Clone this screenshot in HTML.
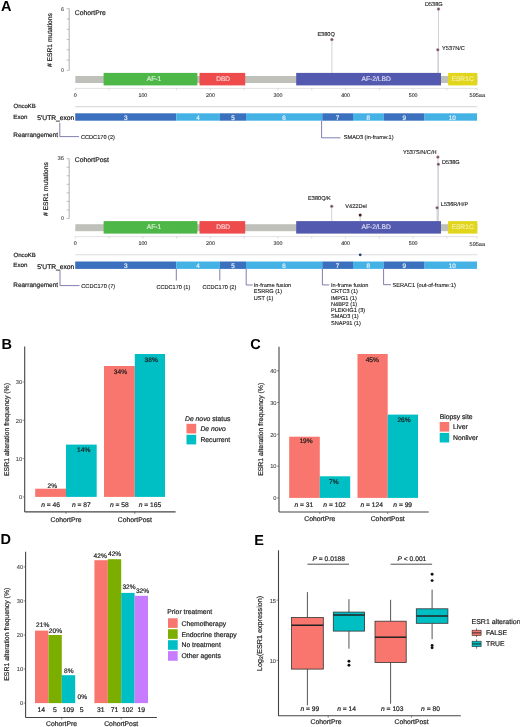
<!DOCTYPE html>
<html><head><meta charset="utf-8"><title>ESR1 alterations figure</title>
<style>
html,body{margin:0;padding:0;background:#fff;}
body{width:520px;height:727px;overflow:hidden;}
svg{display:block;font-family:'Liberation Sans', Arial, sans-serif;text-rendering:geometricPrecision;}
</style></head><body>
<svg width="520" height="727" viewBox="0 0 520 727">
<rect x="0" y="0" width="520" height="727" fill="#fff"/>
<text x="0.90" y="10.60" font-size="14.5" font-weight="bold" fill="#000">A</text>
<line x1="69.20" y1="8.70" x2="69.20" y2="70.40" stroke="#9a9a9a" stroke-width="0.8"/>
<line x1="66.60" y1="8.70" x2="69.20" y2="8.70" stroke="#9a9a9a" stroke-width="0.6"/>
<line x1="66.60" y1="18.98" x2="69.20" y2="18.98" stroke="#9a9a9a" stroke-width="0.6"/>
<line x1="66.60" y1="29.27" x2="69.20" y2="29.27" stroke="#9a9a9a" stroke-width="0.6"/>
<line x1="66.60" y1="39.55" x2="69.20" y2="39.55" stroke="#9a9a9a" stroke-width="0.6"/>
<line x1="66.60" y1="49.83" x2="69.20" y2="49.83" stroke="#9a9a9a" stroke-width="0.6"/>
<line x1="66.60" y1="60.12" x2="69.20" y2="60.12" stroke="#9a9a9a" stroke-width="0.6"/>
<line x1="66.60" y1="70.40" x2="69.20" y2="70.40" stroke="#9a9a9a" stroke-width="0.6"/>
<text x="64.00" y="10.61" font-size="5.3" text-anchor="end" fill="#4d4d4d" stroke="#4d4d4d" stroke-width="0.12">6</text>
<text x="64.00" y="72.31" font-size="5.3" text-anchor="end" fill="#4d4d4d" stroke="#4d4d4d" stroke-width="0.12">0</text>
<text x="74.80" y="14.80" font-size="6.8" fill="#222" stroke="#222" stroke-width="0.2">CohortPre</text>
<text transform="translate(52.41,40.05) rotate(-90)" x="0" y="0" font-size="6.7" text-anchor="middle" fill="#222" stroke="#222" stroke-width="0.2"># ESR1 mutations</text>
<line x1="331.90" y1="39.60" x2="331.90" y2="72.90" stroke="#cdcdd5" stroke-width="0.9"/>
<line x1="438.50" y1="9.00" x2="438.50" y2="72.90" stroke="#cdcdd5" stroke-width="0.9"/>
<line x1="437.80" y1="49.70" x2="437.80" y2="72.90" stroke="#cdcdd5" stroke-width="0.9"/>
<rect x="75.30" y="76.00" width="402.00" height="7.00" fill="#c0c0ba"/>
<rect x="103.60" y="72.90" width="93.80" height="12.50" fill="#4db748"/>
<rect x="199.50" y="72.90" width="45.70" height="12.50" fill="#ee4b4d"/>
<rect x="296.20" y="72.90" width="144.80" height="12.50" fill="#5459b0"/>
<rect x="448.10" y="72.90" width="29.20" height="12.50" fill="#e2d61c"/>
<text x="154.00" y="80.90" font-size="6.8" text-anchor="middle" fill="#d2eccd" stroke="#d2eccd" stroke-width="0.2">AF-1</text>
<text x="223.10" y="81.20" font-size="6.6" text-anchor="middle" fill="#f9cccc" stroke="#f9cccc" stroke-width="0.2">DBD</text>
<text x="376.20" y="81.00" font-size="6.7" text-anchor="middle" fill="#d6d8f0" stroke="#d6d8f0" stroke-width="0.2">AF-2/LBD</text>
<text x="462.60" y="81.00" font-size="6.7" text-anchor="middle" fill="#f3eea0" stroke="#f3eea0" stroke-width="0.2">ESR1C</text>
<circle cx="331.90" cy="39.60" r="1.5" fill="#6f4d66" stroke="#e0c0cc" stroke-width="0.4"/>
<text x="334.80" y="35.62" font-size="5.6" text-anchor="end" fill="#222" stroke="#222" stroke-width="0.12">E380Q</text>
<circle cx="438.50" cy="9.00" r="1.5" fill="#6f4d66" stroke="#e0c0cc" stroke-width="0.4"/>
<text x="442.70" y="5.52" font-size="5.6" text-anchor="end" fill="#222" stroke="#222" stroke-width="0.12">D538G</text>
<circle cx="437.80" cy="49.70" r="1.5" fill="#6f4d66" stroke="#e0c0cc" stroke-width="0.4"/>
<text x="442.10" y="50.22" font-size="5.6" fill="#222" stroke="#222" stroke-width="0.12">Y537N/C</text>
<line x1="75.30" y1="88.40" x2="477.30" y2="88.40" stroke="#d8d4dc" stroke-width="0.7"/>
<line x1="75.30" y1="88.40" x2="75.30" y2="90.40" stroke="#c8c4cc" stroke-width="0.6"/>
<line x1="109.08" y1="88.40" x2="109.08" y2="90.40" stroke="#c8c4cc" stroke-width="0.6"/>
<line x1="142.86" y1="88.40" x2="142.86" y2="90.40" stroke="#c8c4cc" stroke-width="0.6"/>
<line x1="176.64" y1="88.40" x2="176.64" y2="90.40" stroke="#c8c4cc" stroke-width="0.6"/>
<line x1="210.43" y1="88.40" x2="210.43" y2="90.40" stroke="#c8c4cc" stroke-width="0.6"/>
<line x1="244.21" y1="88.40" x2="244.21" y2="90.40" stroke="#c8c4cc" stroke-width="0.6"/>
<line x1="277.99" y1="88.40" x2="277.99" y2="90.40" stroke="#c8c4cc" stroke-width="0.6"/>
<line x1="311.77" y1="88.40" x2="311.77" y2="90.40" stroke="#c8c4cc" stroke-width="0.6"/>
<line x1="345.55" y1="88.40" x2="345.55" y2="90.40" stroke="#c8c4cc" stroke-width="0.6"/>
<line x1="379.33" y1="88.40" x2="379.33" y2="90.40" stroke="#c8c4cc" stroke-width="0.6"/>
<line x1="413.12" y1="88.40" x2="413.12" y2="90.40" stroke="#c8c4cc" stroke-width="0.6"/>
<line x1="446.90" y1="88.40" x2="446.90" y2="90.40" stroke="#c8c4cc" stroke-width="0.6"/>
<line x1="477.30" y1="88.40" x2="477.30" y2="90.40" stroke="#c8c4cc" stroke-width="0.6"/>
<text x="75.30" y="97.01" font-size="5.3" text-anchor="middle" fill="#333" stroke="#333" stroke-width="0.12">0</text>
<text x="142.86" y="97.01" font-size="5.3" text-anchor="middle" fill="#333" stroke="#333" stroke-width="0.12">100</text>
<text x="210.43" y="97.01" font-size="5.3" text-anchor="middle" fill="#333" stroke="#333" stroke-width="0.12">200</text>
<text x="277.99" y="97.01" font-size="5.3" text-anchor="middle" fill="#333" stroke="#333" stroke-width="0.12">300</text>
<text x="345.55" y="97.01" font-size="5.3" text-anchor="middle" fill="#333" stroke="#333" stroke-width="0.12">400</text>
<text x="413.12" y="97.01" font-size="5.3" text-anchor="middle" fill="#333" stroke="#333" stroke-width="0.12">500</text>
<text x="477.30" y="97.42" font-size="5.6" text-anchor="middle" fill="#333" stroke="#333" stroke-width="0.12">595aa</text>
<line x1="75.20" y1="106.60" x2="477.30" y2="106.60" stroke="#dcdcdc" stroke-width="1.1"/>
<text x="13.50" y="108.36" font-size="6.0" fill="#222" stroke="#222" stroke-width="0.2">OncoKB</text>
<text x="13.30" y="119.13" font-size="6.2" fill="#222" stroke="#222" stroke-width="0.2">Exon</text>
<text x="13.30" y="137.22" font-size="6.45" fill="#222" stroke="#222" stroke-width="0.2">Rearrangement</text>
<text x="74.30" y="120.41" font-size="6.7" text-anchor="end" fill="#111" stroke="#111" stroke-width="0.2">5'UTR_exon</text>
<rect x="75.20" y="113.30" width="101.10" height="7.40" fill="#3a70bd"/>
<text x="125.75" y="119.50" font-size="6.4" text-anchor="middle" fill="#e3eefa" stroke="#e3eefa" stroke-width="0.2">3</text>
<rect x="176.30" y="113.30" width="43.60" height="7.40" fill="#45b2e6"/>
<text x="198.10" y="119.50" font-size="6.4" text-anchor="middle" fill="#e3eefa" stroke="#e3eefa" stroke-width="0.2">4</text>
<rect x="219.90" y="113.30" width="26.10" height="7.40" fill="#3a70bd"/>
<text x="232.95" y="119.50" font-size="6.4" text-anchor="middle" fill="#e3eefa" stroke="#e3eefa" stroke-width="0.2">5</text>
<rect x="246.00" y="113.30" width="76.30" height="7.40" fill="#45b2e6"/>
<text x="284.15" y="119.50" font-size="6.4" text-anchor="middle" fill="#e3eefa" stroke="#e3eefa" stroke-width="0.2">6</text>
<rect x="322.30" y="113.30" width="30.70" height="7.40" fill="#3a70bd"/>
<text x="337.65" y="119.50" font-size="6.4" text-anchor="middle" fill="#e3eefa" stroke="#e3eefa" stroke-width="0.2">7</text>
<rect x="353.00" y="113.30" width="30.80" height="7.40" fill="#45b2e6"/>
<text x="368.40" y="119.50" font-size="6.4" text-anchor="middle" fill="#e3eefa" stroke="#e3eefa" stroke-width="0.2">8</text>
<rect x="383.80" y="113.30" width="40.80" height="7.40" fill="#3a70bd"/>
<text x="404.20" y="119.50" font-size="6.4" text-anchor="middle" fill="#e3eefa" stroke="#e3eefa" stroke-width="0.2">9</text>
<rect x="424.60" y="113.30" width="52.40" height="7.40" fill="#45b2e6"/>
<text x="452.30" y="119.50" font-size="6.4" text-anchor="middle" fill="#e3eefa" stroke="#e3eefa" stroke-width="0.2">10</text>
<polyline points="59.80,122.80 59.80,136.60 79.00,136.60" fill="none" stroke="#5f609a" stroke-width="0.8"/>
<text x="81.00" y="138.62" font-size="5.6" fill="#222" stroke="#222" stroke-width="0.12">CCDC170 (2)</text>
<polyline points="321.60,120.70 321.60,137.80 340.40,137.80" fill="none" stroke="#5f609a" stroke-width="0.8"/>
<text x="343.80" y="139.42" font-size="5.6" fill="#222" stroke="#222" stroke-width="0.12">SMAD3 (in-frame:1)</text>
<line x1="69.20" y1="158.70" x2="69.20" y2="218.50" stroke="#9a9a9a" stroke-width="0.8"/>
<line x1="66.60" y1="158.70" x2="69.20" y2="158.70" stroke="#9a9a9a" stroke-width="0.6"/>
<line x1="66.60" y1="167.24" x2="69.20" y2="167.24" stroke="#9a9a9a" stroke-width="0.6"/>
<line x1="66.60" y1="175.79" x2="69.20" y2="175.79" stroke="#9a9a9a" stroke-width="0.6"/>
<line x1="66.60" y1="184.33" x2="69.20" y2="184.33" stroke="#9a9a9a" stroke-width="0.6"/>
<line x1="66.60" y1="192.87" x2="69.20" y2="192.87" stroke="#9a9a9a" stroke-width="0.6"/>
<line x1="66.60" y1="201.41" x2="69.20" y2="201.41" stroke="#9a9a9a" stroke-width="0.6"/>
<line x1="66.60" y1="209.96" x2="69.20" y2="209.96" stroke="#9a9a9a" stroke-width="0.6"/>
<line x1="66.60" y1="218.50" x2="69.20" y2="218.50" stroke="#9a9a9a" stroke-width="0.6"/>
<text x="64.00" y="159.79" font-size="5.8" text-anchor="end" fill="#4d4d4d" stroke="#4d4d4d" stroke-width="0.12">36</text>
<text x="64.00" y="220.41" font-size="5.3" text-anchor="end" fill="#4d4d4d" stroke="#4d4d4d" stroke-width="0.12">0</text>
<text x="74.80" y="162.00" font-size="6.8" fill="#222" stroke="#222" stroke-width="0.2">CohortPost</text>
<text transform="translate(48.41,189.10) rotate(-90)" x="0" y="0" font-size="6.7" text-anchor="middle" fill="#222" stroke="#222" stroke-width="0.2"># ESR1 mutations</text>
<line x1="331.70" y1="206.30" x2="331.70" y2="221.10" stroke="#cdcdd5" stroke-width="0.9"/>
<line x1="360.20" y1="215.00" x2="360.20" y2="221.10" stroke="#cdcdd5" stroke-width="0.9"/>
<line x1="437.90" y1="157.10" x2="437.90" y2="221.10" stroke="#cdcdd5" stroke-width="0.9"/>
<line x1="438.40" y1="164.20" x2="438.40" y2="221.10" stroke="#cdcdd5" stroke-width="0.9"/>
<line x1="437.10" y1="207.70" x2="437.10" y2="221.10" stroke="#cdcdd5" stroke-width="0.9"/>
<rect x="75.30" y="224.20" width="402.00" height="7.00" fill="#c0c0ba"/>
<rect x="103.60" y="221.10" width="93.80" height="12.50" fill="#4db748"/>
<rect x="199.50" y="221.10" width="45.70" height="12.50" fill="#ee4b4d"/>
<rect x="296.20" y="221.10" width="144.80" height="12.50" fill="#5459b0"/>
<rect x="448.10" y="221.10" width="29.20" height="12.50" fill="#e2d61c"/>
<text x="154.00" y="229.10" font-size="6.8" text-anchor="middle" fill="#d2eccd" stroke="#d2eccd" stroke-width="0.2">AF-1</text>
<text x="223.10" y="229.40" font-size="6.6" text-anchor="middle" fill="#f9cccc" stroke="#f9cccc" stroke-width="0.2">DBD</text>
<text x="376.20" y="229.20" font-size="6.7" text-anchor="middle" fill="#d6d8f0" stroke="#d6d8f0" stroke-width="0.2">AF-2/LBD</text>
<text x="462.60" y="229.20" font-size="6.7" text-anchor="middle" fill="#f3eea0" stroke="#f3eea0" stroke-width="0.2">ESR1C</text>
<circle cx="331.70" cy="206.30" r="1.5" fill="#6f4d66" stroke="#e0c0cc" stroke-width="0.4"/>
<text x="330.80" y="199.72" font-size="5.6" text-anchor="end" fill="#222" stroke="#222" stroke-width="0.12">E380Q/K</text>
<circle cx="360.20" cy="215.00" r="1.5" fill="#4a1c1c"/>
<text x="356.10" y="208.32" font-size="5.6" text-anchor="middle" fill="#222" stroke="#222" stroke-width="0.12">V422Del</text>
<circle cx="437.90" cy="157.10" r="1.5" fill="#6f4d66" stroke="#e0c0cc" stroke-width="0.4"/>
<text x="436.50" y="153.52" font-size="5.6" text-anchor="end" fill="#222" stroke="#222" stroke-width="0.12">Y537S/N/C/H</text>
<circle cx="438.40" cy="164.20" r="1.5" fill="#6f4d66" stroke="#e0c0cc" stroke-width="0.4"/>
<text x="442.00" y="163.72" font-size="5.6" fill="#222" stroke="#222" stroke-width="0.12">D538G</text>
<circle cx="437.10" cy="207.70" r="1.5" fill="#6f4d66" stroke="#e0c0cc" stroke-width="0.4"/>
<text x="440.80" y="205.82" font-size="5.6" fill="#222" stroke="#222" stroke-width="0.12">L536R/H/P</text>
<line x1="75.30" y1="236.60" x2="477.30" y2="236.60" stroke="#d8d4dc" stroke-width="0.7"/>
<line x1="75.30" y1="236.60" x2="75.30" y2="238.60" stroke="#c8c4cc" stroke-width="0.6"/>
<line x1="109.08" y1="236.60" x2="109.08" y2="238.60" stroke="#c8c4cc" stroke-width="0.6"/>
<line x1="142.86" y1="236.60" x2="142.86" y2="238.60" stroke="#c8c4cc" stroke-width="0.6"/>
<line x1="176.64" y1="236.60" x2="176.64" y2="238.60" stroke="#c8c4cc" stroke-width="0.6"/>
<line x1="210.43" y1="236.60" x2="210.43" y2="238.60" stroke="#c8c4cc" stroke-width="0.6"/>
<line x1="244.21" y1="236.60" x2="244.21" y2="238.60" stroke="#c8c4cc" stroke-width="0.6"/>
<line x1="277.99" y1="236.60" x2="277.99" y2="238.60" stroke="#c8c4cc" stroke-width="0.6"/>
<line x1="311.77" y1="236.60" x2="311.77" y2="238.60" stroke="#c8c4cc" stroke-width="0.6"/>
<line x1="345.55" y1="236.60" x2="345.55" y2="238.60" stroke="#c8c4cc" stroke-width="0.6"/>
<line x1="379.33" y1="236.60" x2="379.33" y2="238.60" stroke="#c8c4cc" stroke-width="0.6"/>
<line x1="413.12" y1="236.60" x2="413.12" y2="238.60" stroke="#c8c4cc" stroke-width="0.6"/>
<line x1="446.90" y1="236.60" x2="446.90" y2="238.60" stroke="#c8c4cc" stroke-width="0.6"/>
<line x1="477.30" y1="236.60" x2="477.30" y2="238.60" stroke="#c8c4cc" stroke-width="0.6"/>
<text x="75.30" y="245.21" font-size="5.3" text-anchor="middle" fill="#333" stroke="#333" stroke-width="0.12">0</text>
<text x="142.86" y="245.21" font-size="5.3" text-anchor="middle" fill="#333" stroke="#333" stroke-width="0.12">100</text>
<text x="210.43" y="245.21" font-size="5.3" text-anchor="middle" fill="#333" stroke="#333" stroke-width="0.12">200</text>
<text x="277.99" y="245.21" font-size="5.3" text-anchor="middle" fill="#333" stroke="#333" stroke-width="0.12">300</text>
<text x="345.55" y="245.21" font-size="5.3" text-anchor="middle" fill="#333" stroke="#333" stroke-width="0.12">400</text>
<text x="413.12" y="245.21" font-size="5.3" text-anchor="middle" fill="#333" stroke="#333" stroke-width="0.12">500</text>
<text x="477.30" y="245.62" font-size="5.6" text-anchor="middle" fill="#333" stroke="#333" stroke-width="0.12">595aa</text>
<line x1="75.20" y1="254.80" x2="477.30" y2="254.80" stroke="#dcdcdc" stroke-width="1.1"/>
<text x="13.50" y="256.56" font-size="6.0" fill="#222" stroke="#222" stroke-width="0.2">OncoKB</text>
<text x="13.30" y="267.33" font-size="6.2" fill="#222" stroke="#222" stroke-width="0.2">Exon</text>
<text x="13.30" y="287.32" font-size="6.45" fill="#222" stroke="#222" stroke-width="0.2">Rearrangement</text>
<text x="74.30" y="268.61" font-size="6.7" text-anchor="end" fill="#111" stroke="#111" stroke-width="0.2">5'UTR_exon</text>
<rect x="75.20" y="261.50" width="101.10" height="7.40" fill="#3a70bd"/>
<text x="125.75" y="267.70" font-size="6.4" text-anchor="middle" fill="#e3eefa" stroke="#e3eefa" stroke-width="0.2">3</text>
<rect x="176.30" y="261.50" width="43.60" height="7.40" fill="#45b2e6"/>
<text x="198.10" y="267.70" font-size="6.4" text-anchor="middle" fill="#e3eefa" stroke="#e3eefa" stroke-width="0.2">4</text>
<rect x="219.90" y="261.50" width="26.10" height="7.40" fill="#3a70bd"/>
<text x="232.95" y="267.70" font-size="6.4" text-anchor="middle" fill="#e3eefa" stroke="#e3eefa" stroke-width="0.2">5</text>
<rect x="246.00" y="261.50" width="76.30" height="7.40" fill="#45b2e6"/>
<text x="284.15" y="267.70" font-size="6.4" text-anchor="middle" fill="#e3eefa" stroke="#e3eefa" stroke-width="0.2">6</text>
<rect x="322.30" y="261.50" width="30.70" height="7.40" fill="#3a70bd"/>
<text x="337.65" y="267.70" font-size="6.4" text-anchor="middle" fill="#e3eefa" stroke="#e3eefa" stroke-width="0.2">7</text>
<rect x="353.00" y="261.50" width="30.80" height="7.40" fill="#45b2e6"/>
<text x="368.40" y="267.70" font-size="6.4" text-anchor="middle" fill="#e3eefa" stroke="#e3eefa" stroke-width="0.2">8</text>
<rect x="383.80" y="261.50" width="40.80" height="7.40" fill="#3a70bd"/>
<text x="404.20" y="267.70" font-size="6.4" text-anchor="middle" fill="#e3eefa" stroke="#e3eefa" stroke-width="0.2">9</text>
<rect x="424.60" y="261.50" width="52.40" height="7.40" fill="#45b2e6"/>
<text x="452.30" y="267.70" font-size="6.4" text-anchor="middle" fill="#e3eefa" stroke="#e3eefa" stroke-width="0.2">10</text>
<circle cx="360.20" cy="254.80" r="1.4" fill="#2b3d6b"/>
<polyline points="60.00,270.00 60.00,285.60 79.50,285.60" fill="none" stroke="#5f609a" stroke-width="0.8"/>
<text x="81.30" y="288.02" font-size="5.6" fill="#222" stroke="#222" stroke-width="0.12">CCDC170 (7)</text>
<line x1="176.30" y1="268.90" x2="176.30" y2="280.50" stroke="#5f609a" stroke-width="0.8"/>
<text x="173.40" y="288.82" font-size="5.6" text-anchor="middle" fill="#222" stroke="#222" stroke-width="0.12">CCDC170 (1)</text>
<line x1="219.80" y1="268.90" x2="219.80" y2="280.50" stroke="#5f609a" stroke-width="0.8"/>
<text x="219.40" y="288.82" font-size="5.6" text-anchor="middle" fill="#222" stroke="#222" stroke-width="0.12">CCDC170 (2)</text>
<polyline points="246.20,268.90 246.20,285.00 252.70,285.00" fill="none" stroke="#5f609a" stroke-width="0.8"/>
<text x="253.80" y="287.02" font-size="5.6" fill="#222" stroke="#222" stroke-width="0.12">In-frame fusion</text>
<text x="253.80" y="293.37" font-size="5.6" fill="#222" stroke="#222" stroke-width="0.12">ESRRG (1)</text>
<text x="253.80" y="299.72" font-size="5.6" fill="#222" stroke="#222" stroke-width="0.12">UST (1)</text>
<polyline points="322.40,268.90 322.40,284.90 329.30,284.90" fill="none" stroke="#5f609a" stroke-width="0.8"/>
<text x="331.00" y="287.02" font-size="5.6" fill="#222" stroke="#222" stroke-width="0.12">In-frame fusion</text>
<text x="331.00" y="293.27" font-size="5.6" fill="#222" stroke="#222" stroke-width="0.12">CRTC3 (1)</text>
<text x="331.00" y="299.52" font-size="5.6" fill="#222" stroke="#222" stroke-width="0.12">IMPG1 (1)</text>
<text x="331.00" y="305.77" font-size="5.6" fill="#222" stroke="#222" stroke-width="0.12">N4BP2 (1)</text>
<text x="331.00" y="312.02" font-size="5.6" fill="#222" stroke="#222" stroke-width="0.12">PLEKHG1 (3)</text>
<text x="331.00" y="318.27" font-size="5.6" fill="#222" stroke="#222" stroke-width="0.12">SMAD3 (1)</text>
<text x="331.00" y="324.52" font-size="5.6" fill="#222" stroke="#222" stroke-width="0.12">SNAP91 (1)</text>
<polyline points="383.60,268.90 383.60,284.70 391.00,284.70" fill="none" stroke="#5f609a" stroke-width="0.8"/>
<text x="392.50" y="286.63" font-size="5.65" fill="#222" stroke="#222" stroke-width="0.12">SERAC1 (out-of-frame:1)</text>
<text x="1.60" y="348.50" font-size="14.5" font-weight="bold" fill="#000">B</text>
<line x1="24.70" y1="346.60" x2="24.70" y2="512.00" stroke="#444444" stroke-width="1.1"/>
<line x1="22.70" y1="496.90" x2="24.70" y2="496.90" stroke="#444444" stroke-width="0.6"/>
<text x="22.20" y="499.25" font-size="5.7" text-anchor="end" fill="#4d4d4d" stroke="#4d4d4d" stroke-width="0.12">0</text>
<line x1="22.70" y1="458.60" x2="24.70" y2="458.60" stroke="#444444" stroke-width="0.6"/>
<text x="22.20" y="460.95" font-size="5.7" text-anchor="end" fill="#4d4d4d" stroke="#4d4d4d" stroke-width="0.12">10</text>
<line x1="22.70" y1="420.30" x2="24.70" y2="420.30" stroke="#444444" stroke-width="0.6"/>
<text x="22.20" y="422.65" font-size="5.7" text-anchor="end" fill="#4d4d4d" stroke="#4d4d4d" stroke-width="0.12">20</text>
<line x1="22.70" y1="382.00" x2="24.70" y2="382.00" stroke="#444444" stroke-width="0.6"/>
<text x="22.20" y="384.35" font-size="5.7" text-anchor="end" fill="#4d4d4d" stroke="#4d4d4d" stroke-width="0.12">30</text>
<line x1="24.70" y1="511.90" x2="175.60" y2="511.90" stroke="#444444" stroke-width="1.1"/>
<line x1="66.00" y1="511.90" x2="66.00" y2="513.90" stroke="#444444" stroke-width="0.6"/>
<line x1="134.80" y1="511.90" x2="134.80" y2="513.90" stroke="#444444" stroke-width="0.6"/>
<rect x="35.20" y="488.70" width="30.80" height="8.20" fill="#F8766D"/>
<rect x="66.00" y="444.60" width="30.70" height="52.30" fill="#00BFC4"/>
<rect x="104.00" y="366.00" width="30.80" height="130.90" fill="#F8766D"/>
<rect x="134.80" y="354.00" width="30.20" height="142.90" fill="#00BFC4"/>
<text x="52.30" y="487.78" font-size="6.6" text-anchor="middle" fill="#1a1a1a" stroke="#1a1a1a" stroke-width="0.2">2%</text>
<text x="83.70" y="451.58" font-size="6.6" text-anchor="middle" fill="#1a1a1a" stroke="#1a1a1a" stroke-width="0.2">14%</text>
<text x="120.40" y="373.58" font-size="6.6" text-anchor="middle" fill="#1a1a1a" stroke="#1a1a1a" stroke-width="0.2">34%</text>
<text x="151.20" y="362.18" font-size="6.6" text-anchor="middle" fill="#1a1a1a" stroke="#1a1a1a" stroke-width="0.2">38%</text>
<text x="50.60" y="507.01" font-size="6.7" text-anchor="middle" fill="#222" stroke="#222" stroke-width="0.2"><tspan font-style="italic">n</tspan> = 46</text>
<text x="81.30" y="507.01" font-size="6.7" text-anchor="middle" fill="#222" stroke="#222" stroke-width="0.2"><tspan font-style="italic">n</tspan> = 87</text>
<text x="119.40" y="507.01" font-size="6.7" text-anchor="middle" fill="#222" stroke="#222" stroke-width="0.2"><tspan font-style="italic">n</tspan> = 58</text>
<text x="149.90" y="507.01" font-size="6.7" text-anchor="middle" fill="#222" stroke="#222" stroke-width="0.2"><tspan font-style="italic">n</tspan> = 165</text>
<text x="66.00" y="521.95" font-size="6.8" text-anchor="middle" fill="#222" stroke="#222" stroke-width="0.2">CohortPre</text>
<text x="134.80" y="521.95" font-size="6.8" text-anchor="middle" fill="#222" stroke="#222" stroke-width="0.2">CohortPost</text>
<text transform="translate(8.68,429.50) rotate(-90)" x="0" y="0" font-size="6.9" text-anchor="middle" fill="#222" stroke="#222" stroke-width="0.2">ESR1 alteration frequency (%)</text>
<text x="185.0" y="420.95" font-size="6.8" fill="#222" stroke="#222" stroke-width="0.2"><tspan font-style="italic">De novo</tspan> status</text>
<rect x="186.50" y="423.80" width="9.70" height="9.60" fill="#F8766D"/>
<rect x="186.50" y="434.80" width="9.70" height="9.60" fill="#00BFC4"/>
<text x="200.40" y="431.05" font-size="6.8" font-style="italic" fill="#222" stroke="#222" stroke-width="0.2">De novo</text>
<text x="200.40" y="442.05" font-size="6.8" fill="#222" stroke="#222" stroke-width="0.2">Recurrent</text>
<text x="250.20" y="348.50" font-size="14.5" font-weight="bold" fill="#000">C</text>
<line x1="279.00" y1="346.80" x2="279.00" y2="512.00" stroke="#444444" stroke-width="1.1"/>
<line x1="277.00" y1="497.90" x2="279.00" y2="497.90" stroke="#444444" stroke-width="0.6"/>
<text x="276.50" y="500.25" font-size="5.7" text-anchor="end" fill="#4d4d4d" stroke="#4d4d4d" stroke-width="0.12">0</text>
<line x1="277.00" y1="466.10" x2="279.00" y2="466.10" stroke="#444444" stroke-width="0.6"/>
<text x="276.50" y="468.45" font-size="5.7" text-anchor="end" fill="#4d4d4d" stroke="#4d4d4d" stroke-width="0.12">10</text>
<line x1="277.00" y1="434.30" x2="279.00" y2="434.30" stroke="#444444" stroke-width="0.6"/>
<text x="276.50" y="436.65" font-size="5.7" text-anchor="end" fill="#4d4d4d" stroke="#4d4d4d" stroke-width="0.12">20</text>
<line x1="277.00" y1="402.50" x2="279.00" y2="402.50" stroke="#444444" stroke-width="0.6"/>
<text x="276.50" y="404.85" font-size="5.7" text-anchor="end" fill="#4d4d4d" stroke="#4d4d4d" stroke-width="0.12">30</text>
<line x1="277.00" y1="370.70" x2="279.00" y2="370.70" stroke="#444444" stroke-width="0.6"/>
<text x="276.50" y="373.05" font-size="5.7" text-anchor="end" fill="#4d4d4d" stroke="#4d4d4d" stroke-width="0.12">40</text>
<line x1="279.00" y1="512.00" x2="428.70" y2="512.00" stroke="#444444" stroke-width="1.1"/>
<line x1="319.80" y1="512.00" x2="319.80" y2="514.00" stroke="#444444" stroke-width="0.6"/>
<line x1="387.70" y1="512.00" x2="387.70" y2="514.00" stroke="#444444" stroke-width="0.6"/>
<rect x="289.20" y="436.70" width="30.60" height="61.20" fill="#F8766D"/>
<rect x="319.80" y="476.30" width="30.40" height="21.60" fill="#00BFC4"/>
<rect x="357.50" y="354.00" width="30.20" height="143.90" fill="#F8766D"/>
<rect x="387.70" y="414.60" width="30.30" height="83.30" fill="#00BFC4"/>
<text x="306.00" y="442.58" font-size="6.6" text-anchor="middle" fill="#1a1a1a" stroke="#1a1a1a" stroke-width="0.2">19%</text>
<text x="333.80" y="483.88" font-size="6.6" text-anchor="middle" fill="#1a1a1a" stroke="#1a1a1a" stroke-width="0.2">7%</text>
<text x="372.30" y="361.58" font-size="6.6" text-anchor="middle" fill="#1a1a1a" stroke="#1a1a1a" stroke-width="0.2">45%</text>
<text x="404.00" y="421.78" font-size="6.6" text-anchor="middle" fill="#1a1a1a" stroke="#1a1a1a" stroke-width="0.2">26%</text>
<text x="303.80" y="507.01" font-size="6.7" text-anchor="middle" fill="#222" stroke="#222" stroke-width="0.2"><tspan font-style="italic">n</tspan> = 31</text>
<text x="334.60" y="507.01" font-size="6.7" text-anchor="middle" fill="#222" stroke="#222" stroke-width="0.2"><tspan font-style="italic">n</tspan> = 102</text>
<text x="371.70" y="507.01" font-size="6.7" text-anchor="middle" fill="#222" stroke="#222" stroke-width="0.2"><tspan font-style="italic">n</tspan> = 124</text>
<text x="402.70" y="507.01" font-size="6.7" text-anchor="middle" fill="#222" stroke="#222" stroke-width="0.2"><tspan font-style="italic">n</tspan> = 99</text>
<text x="319.80" y="520.75" font-size="6.8" text-anchor="middle" fill="#222" stroke="#222" stroke-width="0.2">CohortPre</text>
<text x="387.70" y="520.75" font-size="6.8" text-anchor="middle" fill="#222" stroke="#222" stroke-width="0.2">CohortPost</text>
<text transform="translate(262.78,429.30) rotate(-90)" x="0" y="0" font-size="6.9" text-anchor="middle" fill="#222" stroke="#222" stroke-width="0.2">ESR1 alteration frequency (%)</text>
<text x="439.70" y="419.05" font-size="6.8" fill="#222" stroke="#222" stroke-width="0.2">Biopsy site</text>
<rect x="439.70" y="422.00" width="9.50" height="9.60" fill="#F8766D"/>
<rect x="439.70" y="432.90" width="9.50" height="9.60" fill="#00BFC4"/>
<text x="453.00" y="429.05" font-size="6.8" fill="#222" stroke="#222" stroke-width="0.2">Liver</text>
<text x="453.00" y="439.95" font-size="6.8" fill="#222" stroke="#222" stroke-width="0.2">Nonliver</text>
<text x="0.60" y="544.10" font-size="14.5" font-weight="bold" fill="#000">D</text>
<line x1="25.60" y1="551.80" x2="25.60" y2="717.60" stroke="#444444" stroke-width="1.1"/>
<line x1="23.60" y1="703.10" x2="25.60" y2="703.10" stroke="#444444" stroke-width="0.6"/>
<text x="23.10" y="705.45" font-size="5.7" text-anchor="end" fill="#4d4d4d" stroke="#4d4d4d" stroke-width="0.12">0</text>
<line x1="23.60" y1="669.05" x2="25.60" y2="669.05" stroke="#444444" stroke-width="0.6"/>
<text x="23.10" y="671.40" font-size="5.7" text-anchor="end" fill="#4d4d4d" stroke="#4d4d4d" stroke-width="0.12">10</text>
<line x1="23.60" y1="635.00" x2="25.60" y2="635.00" stroke="#444444" stroke-width="0.6"/>
<text x="23.10" y="637.35" font-size="5.7" text-anchor="end" fill="#4d4d4d" stroke="#4d4d4d" stroke-width="0.12">20</text>
<line x1="23.60" y1="600.95" x2="25.60" y2="600.95" stroke="#444444" stroke-width="0.6"/>
<text x="23.10" y="603.30" font-size="5.7" text-anchor="end" fill="#4d4d4d" stroke="#4d4d4d" stroke-width="0.12">30</text>
<line x1="23.60" y1="566.90" x2="25.60" y2="566.90" stroke="#444444" stroke-width="0.6"/>
<text x="23.10" y="569.25" font-size="5.7" text-anchor="end" fill="#4d4d4d" stroke="#4d4d4d" stroke-width="0.12">40</text>
<line x1="25.60" y1="717.50" x2="156.90" y2="717.50" stroke="#444444" stroke-width="1.1"/>
<line x1="61.80" y1="717.50" x2="61.80" y2="719.50" stroke="#444444" stroke-width="0.6"/>
<line x1="121.20" y1="717.50" x2="121.20" y2="719.50" stroke="#444444" stroke-width="0.6"/>
<rect x="35.00" y="630.60" width="13.40" height="72.50" fill="#F8766D"/>
<rect x="94.40" y="560.20" width="13.40" height="142.90" fill="#F8766D"/>
<rect x="48.40" y="635.00" width="13.40" height="68.10" fill="#7CAE00"/>
<rect x="107.80" y="559.20" width="13.40" height="143.90" fill="#7CAE00"/>
<rect x="61.80" y="675.20" width="13.40" height="27.90" fill="#00BFC4"/>
<rect x="121.20" y="592.90" width="13.40" height="110.20" fill="#00BFC4"/>
<rect x="134.60" y="595.80" width="13.40" height="107.30" fill="#C77CFF"/>
<text x="42.70" y="626.78" font-size="6.6" text-anchor="middle" fill="#1a1a1a" stroke="#1a1a1a" stroke-width="0.2">21%</text>
<text x="55.40" y="632.78" font-size="6.6" text-anchor="middle" fill="#1a1a1a" stroke="#1a1a1a" stroke-width="0.2">20%</text>
<text x="68.80" y="672.78" font-size="6.6" text-anchor="middle" fill="#1a1a1a" stroke="#1a1a1a" stroke-width="0.2">8%</text>
<text x="82.30" y="699.38" font-size="6.6" text-anchor="middle" fill="#1a1a1a" stroke="#1a1a1a" stroke-width="0.2">0%</text>
<text x="100.20" y="557.78" font-size="6.6" text-anchor="middle" fill="#1a1a1a" stroke="#1a1a1a" stroke-width="0.2">42%</text>
<text x="114.60" y="556.18" font-size="6.6" text-anchor="middle" fill="#1a1a1a" stroke="#1a1a1a" stroke-width="0.2">42%</text>
<text x="129.00" y="589.38" font-size="6.6" text-anchor="middle" fill="#1a1a1a" stroke="#1a1a1a" stroke-width="0.2">32%</text>
<text x="142.50" y="593.38" font-size="6.6" text-anchor="middle" fill="#1a1a1a" stroke="#1a1a1a" stroke-width="0.2">32%</text>
<text x="41.30" y="712.35" font-size="6.8" text-anchor="middle" fill="#222" stroke="#222" stroke-width="0.2">14</text>
<text x="54.80" y="712.35" font-size="6.8" text-anchor="middle" fill="#222" stroke="#222" stroke-width="0.2">5</text>
<text x="68.30" y="712.35" font-size="6.8" text-anchor="middle" fill="#222" stroke="#222" stroke-width="0.2">109</text>
<text x="81.70" y="712.35" font-size="6.8" text-anchor="middle" fill="#222" stroke="#222" stroke-width="0.2">5</text>
<text x="100.80" y="712.35" font-size="6.8" text-anchor="middle" fill="#222" stroke="#222" stroke-width="0.2">31</text>
<text x="114.60" y="712.35" font-size="6.8" text-anchor="middle" fill="#222" stroke="#222" stroke-width="0.2">71</text>
<text x="127.70" y="712.35" font-size="6.8" text-anchor="middle" fill="#222" stroke="#222" stroke-width="0.2">102</text>
<text x="141.20" y="712.35" font-size="6.8" text-anchor="middle" fill="#222" stroke="#222" stroke-width="0.2">19</text>
<text x="61.50" y="725.85" font-size="6.8" text-anchor="middle" fill="#222" stroke="#222" stroke-width="0.2">CohortPre</text>
<text x="121.20" y="725.85" font-size="6.8" text-anchor="middle" fill="#222" stroke="#222" stroke-width="0.2">CohortPost</text>
<text transform="translate(8.68,634.20) rotate(-90)" x="0" y="0" font-size="6.9" text-anchor="middle" fill="#222" stroke="#222" stroke-width="0.2">ESR1 alteration frequency (%)</text>
<text x="167.30" y="613.95" font-size="6.8" fill="#222" stroke="#222" stroke-width="0.2">Prior treatment</text>
<rect x="168.00" y="618.30" width="9.70" height="9.60" fill="#F8766D"/>
<text x="181.50" y="625.55" font-size="6.8" fill="#222" stroke="#222" stroke-width="0.2">Chemotherapy</text>
<rect x="168.00" y="629.25" width="9.70" height="9.60" fill="#7CAE00"/>
<text x="181.50" y="636.50" font-size="6.8" fill="#222" stroke="#222" stroke-width="0.2">Endocrine therapy</text>
<rect x="168.00" y="640.20" width="9.70" height="9.60" fill="#00BFC4"/>
<text x="181.50" y="647.45" font-size="6.8" fill="#222" stroke="#222" stroke-width="0.2">No treatment</text>
<rect x="168.00" y="651.15" width="9.70" height="9.60" fill="#C77CFF"/>
<text x="181.50" y="658.40" font-size="6.8" fill="#222" stroke="#222" stroke-width="0.2">Other agents</text>
<text x="254.20" y="544.50" font-size="14.5" font-weight="bold" fill="#000">E</text>
<line x1="278.50" y1="550.30" x2="278.50" y2="716.00" stroke="#444444" stroke-width="1.1"/>
<line x1="276.50" y1="660.40" x2="278.50" y2="660.40" stroke="#444444" stroke-width="0.6"/>
<text x="276.00" y="662.75" font-size="5.7" text-anchor="end" fill="#4d4d4d" stroke="#4d4d4d" stroke-width="0.12">10</text>
<line x1="276.50" y1="600.20" x2="278.50" y2="600.20" stroke="#444444" stroke-width="0.6"/>
<text x="276.00" y="602.55" font-size="5.7" text-anchor="end" fill="#4d4d4d" stroke="#4d4d4d" stroke-width="0.12">15</text>
<line x1="278.50" y1="715.80" x2="460.80" y2="715.80" stroke="#444444" stroke-width="1.1"/>
<line x1="328.20" y1="715.80" x2="328.20" y2="717.80" stroke="#444444" stroke-width="0.6"/>
<line x1="411.40" y1="715.80" x2="411.40" y2="717.80" stroke="#444444" stroke-width="0.6"/>
<line x1="307.40" y1="592.10" x2="307.40" y2="617.50" stroke="#555" stroke-width="1.0"/>
<line x1="307.40" y1="669.10" x2="307.40" y2="705.40" stroke="#555" stroke-width="1.0"/>
<rect x="291.50" y="617.50" width="31.80" height="51.60" fill="#F8766D" stroke="#333333" stroke-width="0.8"/>
<line x1="291.50" y1="625.20" x2="323.30" y2="625.20" stroke="#222" stroke-width="1.5"/>
<line x1="348.95" y1="599.20" x2="348.95" y2="612.10" stroke="#555" stroke-width="1.0"/>
<line x1="348.95" y1="631.10" x2="348.95" y2="648.70" stroke="#555" stroke-width="1.0"/>
<rect x="333.30" y="612.10" width="31.30" height="19.00" fill="#00BFC4" stroke="#333333" stroke-width="0.8"/>
<line x1="333.30" y1="615.00" x2="364.60" y2="615.00" stroke="#222" stroke-width="1.5"/>
<circle cx="348.95" cy="661.20" r="1.45" fill="#111"/>
<circle cx="348.95" cy="665.20" r="1.45" fill="#111"/>
<line x1="390.60" y1="599.80" x2="390.60" y2="621.20" stroke="#555" stroke-width="1.0"/>
<line x1="390.60" y1="662.50" x2="390.60" y2="703.70" stroke="#555" stroke-width="1.0"/>
<rect x="375.00" y="621.20" width="31.20" height="41.30" fill="#F8766D" stroke="#333333" stroke-width="0.8"/>
<line x1="375.00" y1="637.20" x2="406.20" y2="637.20" stroke="#222" stroke-width="1.5"/>
<line x1="432.10" y1="589.60" x2="432.10" y2="608.80" stroke="#555" stroke-width="1.0"/>
<line x1="432.10" y1="623.30" x2="432.10" y2="639.20" stroke="#555" stroke-width="1.0"/>
<rect x="416.30" y="608.80" width="31.60" height="14.50" fill="#00BFC4" stroke="#333333" stroke-width="0.8"/>
<line x1="416.30" y1="616.00" x2="447.90" y2="616.00" stroke="#222" stroke-width="1.5"/>
<circle cx="432.10" cy="574.20" r="1.45" fill="#111"/>
<circle cx="432.10" cy="580.60" r="1.45" fill="#111"/>
<circle cx="432.10" cy="645.40" r="1.45" fill="#111"/>
<circle cx="432.10" cy="647.70" r="1.45" fill="#111"/>
<text x="312.5" y="560.91" font-size="6.7" fill="#222" stroke="#222" stroke-width="0.2"><tspan font-style="italic">P</tspan> = 0.0188</text>
<line x1="307.40" y1="564.20" x2="349.00" y2="564.20" stroke="#222" stroke-width="0.8"/>
<text x="397.5" y="560.91" font-size="6.7" fill="#222" stroke="#222" stroke-width="0.2"><tspan font-style="italic">P</tspan> &lt; 0.001</text>
<line x1="390.60" y1="564.20" x2="432.10" y2="564.20" stroke="#222" stroke-width="0.8"/>
<text x="309.80" y="711.01" font-size="6.7" text-anchor="middle" fill="#222" stroke="#222" stroke-width="0.2"><tspan font-style="italic">n</tspan> = 99</text>
<text x="346.60" y="711.01" font-size="6.7" text-anchor="middle" fill="#222" stroke="#222" stroke-width="0.2"><tspan font-style="italic">n</tspan> = 14</text>
<text x="392.30" y="711.01" font-size="6.7" text-anchor="middle" fill="#222" stroke="#222" stroke-width="0.2"><tspan font-style="italic">n</tspan> = 103</text>
<text x="430.50" y="711.01" font-size="6.7" text-anchor="middle" fill="#222" stroke="#222" stroke-width="0.2"><tspan font-style="italic">n</tspan> = 80</text>
<text x="326.00" y="724.45" font-size="6.8" text-anchor="middle" fill="#222" stroke="#222" stroke-width="0.2">CohortPre</text>
<text x="411.60" y="724.45" font-size="6.8" text-anchor="middle" fill="#222" stroke="#222" stroke-width="0.2">CohortPost</text>
<text transform="translate(261.59,633.4) rotate(-90)" x="0" y="0" font-size="7.2" text-anchor="middle" fill="#222" stroke="#222" stroke-width="0.2">Log<tspan font-size="5.0" dy="1.9">2</tspan><tspan dy="-1.9">(ESR1 expression)</tspan></text>
<text x="471.50" y="623.72" font-size="7.0" fill="#222" stroke="#222" stroke-width="0.2">ESR1 alteration</text>
<line x1="476.60" y1="628.50" x2="476.60" y2="637.10" stroke="#333333" stroke-width="0.7"/>
<rect x="472.10" y="630.20" width="9.00" height="5.40" fill="#F8766D" stroke="#333333" stroke-width="0.6"/>
<line x1="472.10" y1="632.90" x2="481.10" y2="632.90" stroke="#222" stroke-width="0.9"/>
<text x="486.00" y="635.35" font-size="6.8" fill="#222" stroke="#222" stroke-width="0.2">FALSE</text>
<line x1="476.60" y1="639.40" x2="476.60" y2="648.70" stroke="#333333" stroke-width="0.7"/>
<rect x="472.10" y="641.20" width="9.00" height="5.50" fill="#00BFC4" stroke="#333333" stroke-width="0.6"/>
<line x1="472.10" y1="643.95" x2="481.10" y2="643.95" stroke="#222" stroke-width="0.9"/>
<text x="486.00" y="646.40" font-size="6.8" fill="#222" stroke="#222" stroke-width="0.2">TRUE</text>
</svg>
</body></html>
